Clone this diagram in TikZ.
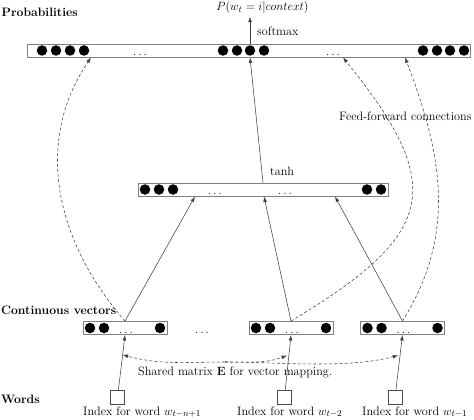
\documentclass[tikz,border=0pt]{standalone}
\usetikzlibrary{arrows.meta,calc}
\begin{document}
\begin{tikzpicture}[x=1pt,y=1pt,
  txt/.style={font=\fontsize{12.2}{14.6}\selectfont, inner sep=0pt},
  head/.style={font=\bfseries\fontsize{12.2}{14.6}\selectfont, inner sep=0pt, anchor=base west},
  bar/.style={draw=black!50, line width=0.9pt, fill=white, inner sep=0pt, minimum height=13pt},
  dot/.style={circle, fill=black, inner sep=0pt, minimum size=10.5pt},
  ell/.style={txt, anchor=base},
  conn/.style={draw=black!75, line width=0.55pt, -{Latex[length=5.5pt,width=3.8pt]}},
  ffc/.style={conn, dash pattern=on 3pt off 2.2pt},
  wordbox/.style={draw=black!70, line width=0.6pt, fill=white, minimum size=14pt, inner sep=0pt}
]
\useasboundingbox (0,-420) rectangle (474,0);

% headings
\node[head] (hprob) at (1.5,-17) {Probabilities};
\node[head] (hcont) at (1,-314) {Continuous vectors};
\node[head] (hword) at (1,-403.5) {Words};

% bars
\node[bar, minimum width=443pt] (top) at (248.5,-50.5) {};
\node[bar, minimum width=250pt] (mid) at (263,-189.5) {};
\node[bar, minimum width=84pt] (b1) at (125,-328) {};
\node[bar, minimum width=84pt] (b2) at (291,-328) {};
\node[bar, minimum width=84pt] (b3) at (402.5,-328) {};

% dots in bars
\foreach \x [count=\i] in {42,56,70,84,223,237,250,264,423,437,450,464}
  \node[dot] (td\i) at (\x,-50.5) {};
\node[ell] (te1) at (140,-55.5) {$\ldots$};
\node[ell] (te2) at (333,-55.5) {$\ldots$};

\foreach \x [count=\i] in {145,159,173,367,381}
  \node[dot] (md\i) at (\x,-189.5) {};
\node[ell] (me1) at (215,-194) {$\ldots$};
\node[ell] (me2) at (285,-194) {$\ldots$};

\foreach \x [count=\i] in {90,104,160,256,270,326,367.5,381.5,437.5}
  \node[dot] (bd\i) at (\x,-328) {};
\node[ell] (be1) at (126,-333) {$\ldots$};
\node[ell] (be2) at (292,-333) {$\ldots$};
\node[ell] (be3) at (403.5,-333) {$\ldots$};
\node[ell] (be) at (202,-333) {$\ldots$};

% texts
\node[txt, anchor=base] (P) at (262.5,-11) {$P(w_t=i|context)$};
\node[txt, anchor=base west] (sm) at (257,-36) {softmax};
\node[txt, anchor=base west] (tanh) at (270,-175) {tanh};
\node[txt, anchor=base west] (ff) at (339,-121) {Feed-forward connections};
\node[txt, anchor=base west] (sh) at (138,-375) {Shared matrix $\mathbf{E}$ for vector mapping.};

% word boxes
\node[wordbox] (w1) at (117.5,-397.5) {};
\node[wordbox] (w2) at (284.5,-397.5) {};
\node[wordbox] (w3) at (395,-397.5) {};
\node[txt, anchor=base west] (l1) at (83,-415) {Index for word $w_{t-n+1}$};
\node[txt, anchor=base west] (l2) at (237,-415) {Index for word $w_{t-2}$};
\node[txt, anchor=base west] (l3) at (362,-415) {Index for word $w_{t-1}$};

% word -> continuous vectors
\draw[conn] (w1) -- coordinate[pos=0.64] (e1) (b1.south);
\draw[conn] (w2) -- coordinate[pos=0.64] (e2) (b2.south);
\draw[conn] (w3) -- coordinate[pos=0.64] (e3) (b3.south);

% continuous vectors -> tanh layer
\draw[conn] (b1.north) -- ($(mid.south)+(-68,0)$);
\draw[conn] (b2.north) -- ($(mid.south)+(1,0)$);
\draw[conn] (b3.north) -- ($(mid.south)+(72,0)$);

% tanh -> output
\draw[conn] (mid.north) -- ($(top.south)+(1.5,0)$);
\coordinate (smtail) at ($(top.north)+(1.5,0)$);
\draw[conn, shorten >=2.5pt] (smtail) -- (smtail |- P.south);

% feed-forward (dashed)
\draw[ffc] (b1.north) to[out=131,in=-124] ($(top.south)+(-157.5,0)$);
\draw[ffc] (b2.north) to[out=31,in=-51,looseness=1.6] ($(top.south)+(94.5,0)$);
\draw[ffc] (b3.north) to[out=58,in=-69] ($(top.south)+(156.5,0)$);

% shared matrix
\coordinate (shared) at (225,-362);
\draw[ffc] (shared) to[out=180,in=-15] (e1);
\draw[ffc, shorten >=2pt] (shared) to[out=0,in=200] (e2);
\draw[ffc, shorten >=2pt] (shared) to[out=0,in=195,looseness=0.8] (e3);
\end{tikzpicture}
\end{document}
